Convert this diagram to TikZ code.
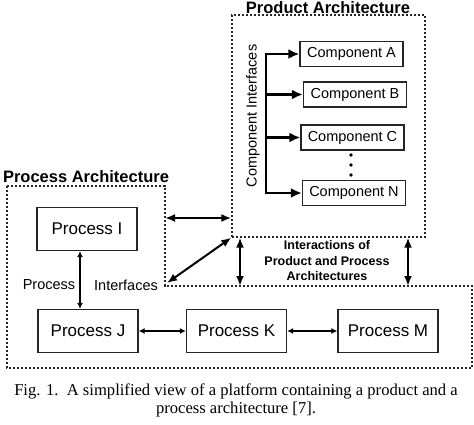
\documentclass[tikz,border=0pt]{standalone}
\usepackage{fontspec}
\setmainfont{Liberation Sans}
\newfontfamily\capfont{Liberation Serif}
\usetikzlibrary{arrows.meta,positioning}

\tikzset{
  procbox/.style={draw=black!85, line width=1.3pt, minimum width=100pt, minimum height=43pt, inner sep=0pt, font=\fontsize{17}{20}\selectfont},
  compbox/.style={draw=black!85, line width=1.3pt, minimum width=103pt, minimum height=25pt, inner sep=0pt, font=\fontsize{14.5}{17}\selectfont},
  archline/.style={draw=black!85, line width=1.3pt, dash pattern=on 2.4pt off 1.6pt},
  archtitle/.style={font=\fontsize{16.5}{19}\selectfont\bfseries, inner sep=0pt},
  link/.style={line width=2pt, {Latex[length=10pt,width=8pt]}-{Latex[length=10pt,width=8pt]}},
  thinlink/.style={line width=1.6pt, {Latex[length=6pt,width=6pt]}-{Latex[length=6pt,width=6pt]}},
  feed/.style={line width=2.6pt, -{Latex[length=11pt,width=10pt]}},
  plain/.style={font=\fontsize{14.5}{17}\selectfont, inner sep=0pt},
}

\begin{document}
\begin{tikzpicture}[x=1pt, y=-1pt]
    \useasboundingbox (0,0) rectangle (474,425);

    % Product architecture
    \node[archline, minimum width=193pt, minimum height=222pt, inner sep=0pt] (prod) at (328.5,126) {};
    \node[archtitle] (prodtitle) at (328,8) {Product Architecture};

    % Components
    \node[compbox] (compA) at (351.5,54) {Component A};
    \node[compbox] (compB) at (355,94.5) {Component B};
    \node[compbox] (compC) at (352.5,137.5) {Component C};
    \node[compbox] (compN) at (354,193) {Component N};
    \foreach \y in {155,165,175}
        \fill (351,\y) circle (1.8pt);

    % Component interfaces
    \coordinate (bus) at (266,120);
    \draw[feed] (bus) |- (compA.west);
    \draw[feed] (bus) |- (compB.west);
    \draw[feed] (bus) |- (compC.west);
    \draw[feed] (bus) |- (compN.west);
    \node[plain, rotate=90] (compif) at (253,116) {Component Interfaces};

    % Process architecture outline
    \coordinate (pa1) at (7,186);
    \coordinate (pa2) at (165,186);
    \coordinate (pa3) at (165,286);
    \coordinate (pa4) at (472,286);
    \coordinate (pa5) at (472,368);
    \coordinate (pa6) at (7,368);
    \draw[archline] (pa1) -- (pa2) -- (pa3) -- (pa4) -- (pa5) -- (pa6) -- cycle;
    \node[archtitle] (proctitle) at (86,177) {Process Architecture};

    % Processes
    \node[procbox] (procI) at (87,229) {Process I};
    \node[procbox] (procJ) at (88,331) {Process J};
    \node[procbox] (procK) at (236.5,331) {Process K};
    \node[procbox] (procM) at (388,331) {Process M};

    \draw[thinlink] (procJ.east) -- (procK.west);
    \draw[thinlink] (procK.east) -- (procM.west);
    \draw[thinlink] (procI.south -| 80,0) -- (procJ.north -| 80,0);
    \node[plain] (pilabel) at (49,285) {Process};
    \node[plain] (iflabel) at (126,285) {Interfaces};

    % Interactions
    \coordinate (side) at (165,218);
    \draw[link] (side) -- (side -| prod.west);
    \draw[link] (167,283) -- (prod.south west);
    \draw[link] (prod.south -| 240,0) -- (pa3 -| 240,0);
    \draw[link] (prod.south -| 408,0) -- (pa3 -| 408,0);
    \node[align=center, font=\fontsize{12.5}{15.5}\selectfont\bfseries, inner sep=0pt] (inter) at (327,261)
        {Interactions of\\Product and Process\\Architectures};

    % Caption
    \node[align=center, font=\capfont\fontsize{16.6}{18}\selectfont, inner sep=0pt] (caption) at (236,400)
        {Fig. 1.\ \ A simplified view of a platform containing a product and a\\process architecture [7].};
\end{tikzpicture}
\end{document}
